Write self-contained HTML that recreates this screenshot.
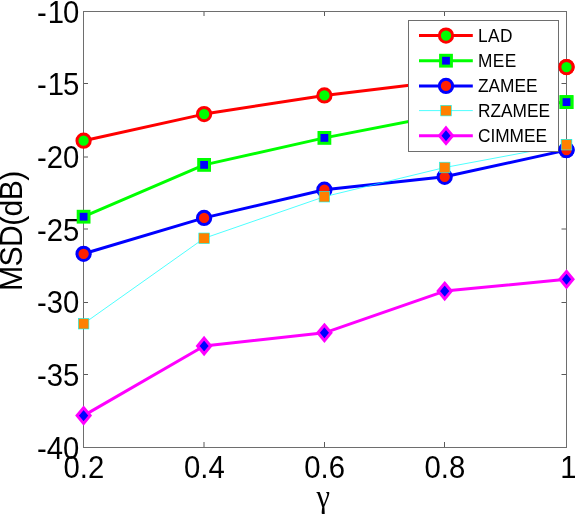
<!DOCTYPE html>
<html><head><meta charset="utf-8"><title>MSD plot</title>
<style>
html,body{margin:0;padding:0;background:#fff;}
body{width:575px;height:515px;overflow:hidden;}
svg{display:block;}
text{font-family:"Liberation Sans",sans-serif;fill:#000;}
.t{font-size:29.3px;}
.l{font-size:17.3px;}
.g{font-family:"Liberation Serif","DejaVu Serif",serif;font-size:30.5px;}
</style></head><body>
<svg width="575" height="515" viewBox="0 0 575 515">
<rect width="575" height="515" fill="#fff"/>
<rect x="83.5" y="11.5" width="483" height="436" stroke="#6e6e6e" stroke-width="1" fill="none" shape-rendering="crispEdges"/>
<g stroke="#5a5a5a" stroke-width="1" fill="none">
<line x1="204.0" y1="447" x2="204.0" y2="442"/><line x1="204.0" y1="12" x2="204.0" y2="16"/>
<line x1="324.5" y1="447" x2="324.5" y2="442"/><line x1="324.5" y1="12" x2="324.5" y2="16"/>
<line x1="444.5" y1="447" x2="444.5" y2="442"/><line x1="444.5" y1="12" x2="444.5" y2="16"/>
<line x1="84" y1="83.5" x2="88" y2="83.5"/><line x1="566" y1="83.5" x2="561.5" y2="83.5"/>
<line x1="84" y1="157.0" x2="88" y2="157.0"/><line x1="566" y1="157.0" x2="561.5" y2="157.0"/>
<line x1="84" y1="229.0" x2="88" y2="229.0"/><line x1="566" y1="229.0" x2="561.5" y2="229.0"/>
<line x1="84" y1="302.5" x2="88" y2="302.5"/><line x1="566" y1="302.5" x2="561.5" y2="302.5"/>
<line x1="84" y1="374.5" x2="88" y2="374.5"/><line x1="566" y1="374.5" x2="561.5" y2="374.5"/>
</g>
<polyline points="83.6,140.7 204.1,114.1 324.4,95.4 444.7,80.9 566.5,67.1" fill="none" stroke="#ff0000" stroke-width="3" stroke-linejoin="round"/>
<circle cx="83.6" cy="140.7" r="6.65" fill="#00ff00" stroke="#ff0000" stroke-width="3"/>
<circle cx="204.1" cy="114.1" r="6.65" fill="#00ff00" stroke="#ff0000" stroke-width="3"/>
<circle cx="324.4" cy="95.4" r="6.65" fill="#00ff00" stroke="#ff0000" stroke-width="3"/>
<circle cx="444.7" cy="80.9" r="6.65" fill="#00ff00" stroke="#ff0000" stroke-width="3"/>
<circle cx="566.5" cy="67.1" r="6.65" fill="#00ff00" stroke="#ff0000" stroke-width="3"/>
<polyline points="83.6,216.7 204.1,164.9 324.4,137.9 444.7,114.5 566.5,102.1" fill="none" stroke="#00ff00" stroke-width="3" stroke-linejoin="round"/>
<rect x="78.20" y="211.30" width="10.8" height="10.8" fill="#0000ff" stroke="#00ff00" stroke-width="3.0"/>
<rect x="198.70" y="159.50" width="10.8" height="10.8" fill="#0000ff" stroke="#00ff00" stroke-width="3.0"/>
<rect x="319.00" y="132.50" width="10.8" height="10.8" fill="#0000ff" stroke="#00ff00" stroke-width="3.0"/>
<rect x="439.30" y="109.10" width="10.8" height="10.8" fill="#0000ff" stroke="#00ff00" stroke-width="3.0"/>
<rect x="561.10" y="96.70" width="10.8" height="10.8" fill="#0000ff" stroke="#00ff00" stroke-width="3.0"/>
<polyline points="83.6,253.8 204.1,217.9 324.4,189.7 444.7,176.8 566.5,150.1" fill="none" stroke="#0000ff" stroke-width="3" stroke-linejoin="round"/>
<circle cx="83.6" cy="253.8" r="6.65" fill="#ff2000" stroke="#0000ff" stroke-width="3"/>
<circle cx="204.1" cy="217.9" r="6.65" fill="#ff2000" stroke="#0000ff" stroke-width="3"/>
<circle cx="324.4" cy="189.7" r="6.65" fill="#ff2000" stroke="#0000ff" stroke-width="3"/>
<circle cx="444.7" cy="176.8" r="6.65" fill="#ff2000" stroke="#0000ff" stroke-width="3"/>
<circle cx="566.5" cy="150.1" r="6.65" fill="#ff2000" stroke="#0000ff" stroke-width="3"/>
<polyline points="83.6,323.7 204.1,238.3 324.4,196.7 444.7,167.5 566.5,144.7" fill="none" stroke="#00ffff" stroke-width="0.7" stroke-linejoin="round"/>
<rect x="78.30" y="318.40" width="10.6" height="10.6" fill="#ff8000" stroke="#00ffff" stroke-width="0.6"/>
<rect x="198.80" y="233.00" width="10.6" height="10.6" fill="#ff8000" stroke="#00ffff" stroke-width="0.6"/>
<rect x="319.10" y="191.40" width="10.6" height="10.6" fill="#ff8000" stroke="#00ffff" stroke-width="0.6"/>
<rect x="439.40" y="162.20" width="10.6" height="10.6" fill="#ff8000" stroke="#00ffff" stroke-width="0.6"/>
<rect x="561.20" y="139.40" width="10.6" height="10.6" fill="#ff8000" stroke="#00ffff" stroke-width="0.6"/>
<polyline points="83.6,415.6 204.1,346.0 324.4,332.8 444.7,291.1 566.5,279.3" fill="none" stroke="#ff00ff" stroke-width="3" stroke-linejoin="round"/>
<path d="M83.60 407.80L90.10 415.60L83.60 423.40L77.10 415.60Z" fill="#0000ff" stroke="#ff00ff" stroke-width="3" stroke-linejoin="miter"/>
<path d="M204.10 338.20L210.60 346.00L204.10 353.80L197.60 346.00Z" fill="#0000ff" stroke="#ff00ff" stroke-width="3" stroke-linejoin="miter"/>
<path d="M324.40 325.00L330.90 332.80L324.40 340.60L317.90 332.80Z" fill="#0000ff" stroke="#ff00ff" stroke-width="3" stroke-linejoin="miter"/>
<path d="M444.70 283.30L451.20 291.10L444.70 298.90L438.20 291.10Z" fill="#0000ff" stroke="#ff00ff" stroke-width="3" stroke-linejoin="miter"/>
<path d="M566.50 271.50L573.00 279.30L566.50 287.10L560.00 279.30Z" fill="#0000ff" stroke="#ff00ff" stroke-width="3" stroke-linejoin="miter"/>
<rect x="408.5" y="20.5" width="150" height="131" fill="#fff" stroke="#6e6e6e" stroke-width="1" shape-rendering="crispEdges"/>
<circle cx="566.5" cy="67.1" r="6.65" fill="#00ff00" stroke="#ff0000" stroke-width="3"/>
<rect x="561.10" y="96.70" width="10.8" height="10.8" fill="#0000ff" stroke="#00ff00" stroke-width="3.0"/>
<circle cx="566.5" cy="150.1" r="6.65" fill="#ff2000" stroke="#0000ff" stroke-width="3"/>
<rect x="561.20" y="139.40" width="10.6" height="10.6" fill="#ff8000" stroke="#00ffff" stroke-width="0.6"/>
<line x1="419" y1="35.6" x2="472.8" y2="35.6" stroke="#ff0000" stroke-width="3"/>
<circle cx="446" cy="35.6" r="6.65" fill="#00ff00" stroke="#ff0000" stroke-width="3"/>
<text class="l" transform="translate(477.9 41.8) scale(1 1.045)" letter-spacing="0.45">LAD</text>
<line x1="419" y1="60.7" x2="472.8" y2="60.7" stroke="#00ff00" stroke-width="3"/>
<rect x="440.60" y="55.30" width="10.8" height="10.8" fill="#0000ff" stroke="#00ff00" stroke-width="3.0"/>
<text class="l" transform="translate(477.9 66.9) scale(1 1.045)" letter-spacing="0.45">MEE</text>
<line x1="419" y1="85.9" x2="472.8" y2="85.9" stroke="#0000ff" stroke-width="3"/>
<circle cx="446" cy="85.9" r="6.65" fill="#ff2000" stroke="#0000ff" stroke-width="3"/>
<text class="l" transform="translate(477.9 92.1) scale(1 1.045)">ZAMEE</text>
<line x1="419" y1="110.6" x2="472.8" y2="110.6" stroke="#00ffff" stroke-width="0.7"/>
<rect x="440.70" y="105.30" width="10.6" height="10.6" fill="#ff8000" stroke="#00ffff" stroke-width="0.6"/>
<text class="l" transform="translate(477.9 116.8) scale(1 1.045)">RZAMEE</text>
<line x1="419" y1="135.7" x2="472.8" y2="135.7" stroke="#ff00ff" stroke-width="3"/>
<path d="M446.00 127.90L452.50 135.70L446.00 143.50L439.50 135.70Z" fill="#0000ff" stroke="#ff00ff" stroke-width="3" stroke-linejoin="miter"/>
<text class="l" transform="translate(477.9 141.9) scale(1 1.045)">CIMMEE</text>
<text class="t" text-anchor="end" transform="translate(79.3 22.7) scale(1 1.045)">-<tspan dx="1.1">1</tspan><tspan dx="-1.1">0</tspan></text>
<text class="t" text-anchor="end" transform="translate(79.3 95.4) scale(1 1.045)">-<tspan dx="1.1">1</tspan><tspan dx="-1.1">5</tspan></text>
<text class="t" text-anchor="end" transform="translate(79.3 168.0) scale(1 1.045)">-20</text>
<text class="t" text-anchor="end" transform="translate(79.3 240.7) scale(1 1.045)">-25</text>
<text class="t" text-anchor="end" transform="translate(79.3 313.4) scale(1 1.045)">-30</text>
<text class="t" text-anchor="end" transform="translate(79.3 386.0) scale(1 1.045)">-35</text>
<text class="t" text-anchor="end" transform="translate(79.3 458.7) scale(1 1.045)">-40</text>
<text class="t" text-anchor="middle" transform="translate(83.8 478.4) scale(1 1.045)">0.2</text>
<text class="t" text-anchor="middle" transform="translate(204.3 478.4) scale(1 1.045)">0.4</text>
<text class="t" text-anchor="middle" transform="translate(324.6 478.4) scale(1 1.045)">0.6</text>
<text class="t" text-anchor="middle" transform="translate(444.9 478.4) scale(1 1.045)">0.8</text>
<text class="t" text-anchor="middle" transform="translate(568.5 478.4) scale(1 1.045)">1</text>
<text class="g" text-anchor="middle" x="323.3" y="507.2">γ</text>
<text class="t" text-anchor="middle" letter-spacing="-0.6" transform="translate(21.7 231.2) rotate(-90) scale(1.03 1.045)">MSD(dB)</text>
</svg></body></html>
